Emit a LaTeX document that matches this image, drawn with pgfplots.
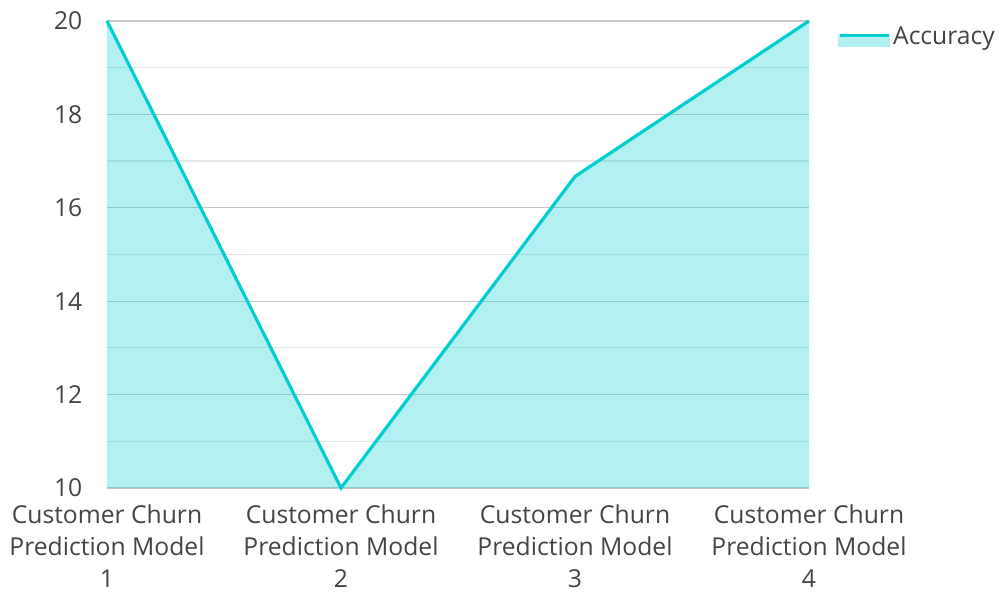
\documentclass[border=0pt]{standalone}
\usepackage{pgfplots}
\pgfplotsset{compat=1.18}
\usepackage{fontspec}
\setmainfont{Open Sans}
\definecolor{teal1}{HTML}{00CED1}
\definecolor{txt}{HTML}{444444}
\begin{document}
\begin{tikzpicture}
\begin{axis}[
  at={(0pt,0pt)}, anchor=south west,
  scale only axis, width=526.5pt, height=350.25pt,
  xmin=0, xmax=3, ymin=10, ymax=20,
  xtick={0,1,2,3},
  xticklabels={Customer Churn\\Prediction Model\\1, Customer Churn\\Prediction Model\\2, Customer Churn\\Prediction Model\\3, Customer Churn\\Prediction Model\\4},
  xticklabel style={align=center, font=\fontsize{18.5}{24}\selectfont, text=txt, yshift=-9pt},
  ytick={10,12,14,16,18,20},
  minor ytick={11,13,15,17,19},
  yticklabel style={font=\fontsize{18.5}{20}\selectfont, text=txt, xshift=-15pt},
  /pgf/number format/assume math mode=true,
  axis line style={draw=none},
  tick style={draw=none},
  ymajorgrids, yminorgrids,
  major grid style={draw=black!22, line width=0.9pt},
  minor grid style={draw=black!10, line width=0.9pt},
  axis on top=false,
  clip=false,
  legend style={at={(1,1)}, anchor=north west, xshift=18.5pt, yshift=0pt, draw=none, fill=none, font=\fontsize{18.5}{20}\selectfont, text=txt},
  legend cell align=left,
  legend image code/.code={
    \fill[teal1!30] (-3pt,-7pt) rectangle (34pt,1pt);
    \draw[teal1, line width=2.4pt] (-3pt,1pt) -- (34pt,1pt);
  },
]
\addplot[draw=none, fill=teal1, fill opacity=0.3, forget plot] coordinates {(0,20) (1,10) (2,16.67) (3,20)} \closedcycle;
\addplot[teal1, line width=2.4pt] coordinates {(0,20) (1,10) (2,16.67) (3,20)};
\addlegendentry{Accuracy}
\end{axis}
\pgfresetboundingbox
\path (-80.25pt,-78pt) rectangle (669pt,366pt);
\end{tikzpicture}
\end{document}
